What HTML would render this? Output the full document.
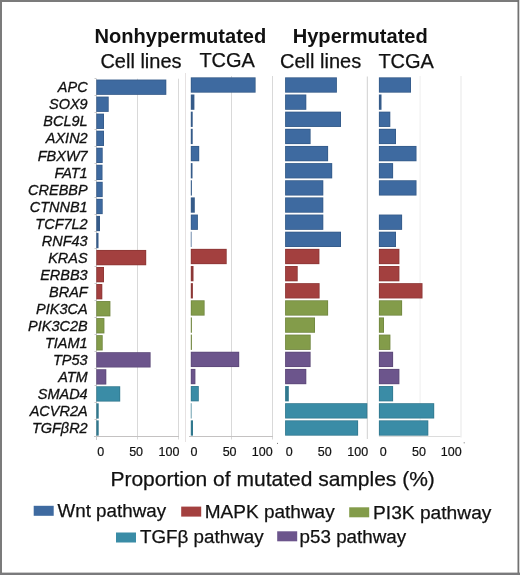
<!DOCTYPE html><html><head><meta charset="utf-8"><style>
html,body{margin:0;padding:0;background:#fff;}
svg{display:block;}
text{font-family:"Liberation Sans",Arial,sans-serif;fill:#111;}
.g{font-style:italic;font-size:14.5px;stroke:#111;stroke-width:0.3px;}
.t{font-size:12.5px;stroke:#111;stroke-width:0.2px;}
.h{font-size:20px;stroke:#111;stroke-width:0.25px;}
.hb{font-size:20.1px;font-weight:bold;}
.ax{font-size:21px;stroke:#111;stroke-width:0.25px;}
.lg{font-size:18.8px;stroke:#111;stroke-width:0.25px;}
</style></head><body>
<svg width="520" height="575" viewBox="0 0 520 575">
<rect x="0" y="0" width="520" height="575" fill="#fff"/>
<rect x="137" y="78.7" width="1" height="360.8" fill="#d9d9d9"/>
<rect x="178" y="78.7" width="1" height="360.8" fill="#d9d9d9"/>
<rect x="185" y="73" width="1" height="369" fill="#e6e2e2"/>
<rect x="94" y="436" width="85" height="1" fill="#c4c2c2"/>
<rect x="94.5" y="78" width="1.7999999999999972" height="1" fill="#c8c8c8"/>
<rect x="94.5" y="95" width="1.7999999999999972" height="1" fill="#c8c8c8"/>
<rect x="94.5" y="112" width="1.7999999999999972" height="1" fill="#c8c8c8"/>
<rect x="94.5" y="129" width="1.7999999999999972" height="1" fill="#c8c8c8"/>
<rect x="94.5" y="146" width="1.7999999999999972" height="1" fill="#c8c8c8"/>
<rect x="94.5" y="163" width="1.7999999999999972" height="1" fill="#c8c8c8"/>
<rect x="94.5" y="180" width="1.7999999999999972" height="1" fill="#c8c8c8"/>
<rect x="94.5" y="197" width="1.7999999999999972" height="1" fill="#c8c8c8"/>
<rect x="94.5" y="214" width="1.7999999999999972" height="1" fill="#c8c8c8"/>
<rect x="94.5" y="231" width="1.7999999999999972" height="1" fill="#c8c8c8"/>
<rect x="94.5" y="248" width="1.7999999999999972" height="1" fill="#c8c8c8"/>
<rect x="94.5" y="266" width="1.7999999999999972" height="1" fill="#c8c8c8"/>
<rect x="94.5" y="283" width="1.7999999999999972" height="1" fill="#c8c8c8"/>
<rect x="94.5" y="300" width="1.7999999999999972" height="1" fill="#c8c8c8"/>
<rect x="94.5" y="317" width="1.7999999999999972" height="1" fill="#c8c8c8"/>
<rect x="94.5" y="334" width="1.7999999999999972" height="1" fill="#c8c8c8"/>
<rect x="94.5" y="351" width="1.7999999999999972" height="1" fill="#c8c8c8"/>
<rect x="94.5" y="368" width="1.7999999999999972" height="1" fill="#c8c8c8"/>
<rect x="94.5" y="385" width="1.7999999999999972" height="1" fill="#c8c8c8"/>
<rect x="94.5" y="402" width="1.7999999999999972" height="1" fill="#c8c8c8"/>
<rect x="94.5" y="419" width="1.7999999999999972" height="1" fill="#c8c8c8"/>
<rect x="94.5" y="436" width="1.7999999999999972" height="1" fill="#c8c8c8"/>
<rect x="96" y="78.7" width="1" height="361.3" fill="#c8c8c8"/>
<rect x="231" y="76" width="1" height="363.5" fill="#d9d9d9"/>
<rect x="272" y="76" width="1" height="363.5" fill="#d9d9d9"/>
<rect x="189" y="436" width="84" height="1" fill="#c4c2c2"/>
<rect x="366.8" y="76.5" width="1" height="362.5" fill="#d0d0d0"/>
<rect x="419.6" y="76" width="1" height="360" fill="#eeeeee"/>
<rect x="460.5" y="76" width="1" height="361.5" fill="#e8e8e8"/>
<rect x="378.9" y="436" width="81.5" height="1" fill="#dcdcdc"/>
<rect x="96.3" y="79.55" width="70.00" height="15.3" fill="#355b89"/>
<rect x="97.10" y="80.35" width="68.40" height="13.70" fill="#3e6aa0"/>
<rect x="96.3" y="96.59" width="12.40" height="15.3" fill="#355b89"/>
<rect x="97.10" y="97.39" width="10.80" height="13.70" fill="#3e6aa0"/>
<rect x="96.3" y="113.63" width="7.70" height="15.3" fill="#355b89"/>
<rect x="97.10" y="114.43" width="6.10" height="13.70" fill="#3e6aa0"/>
<rect x="96.3" y="130.67" width="7.70" height="15.3" fill="#355b89"/>
<rect x="97.10" y="131.47" width="6.10" height="13.70" fill="#3e6aa0"/>
<rect x="96.3" y="147.71" width="6.40" height="15.3" fill="#355b89"/>
<rect x="97.10" y="148.51" width="4.80" height="13.70" fill="#3e6aa0"/>
<rect x="96.3" y="164.75" width="6.20" height="15.3" fill="#355b89"/>
<rect x="97.10" y="165.55" width="4.60" height="13.70" fill="#3e6aa0"/>
<rect x="96.3" y="181.79" width="6.40" height="15.3" fill="#355b89"/>
<rect x="97.10" y="182.59" width="4.80" height="13.70" fill="#3e6aa0"/>
<rect x="96.3" y="198.83" width="6.40" height="15.3" fill="#355b89"/>
<rect x="97.10" y="199.63" width="4.80" height="13.70" fill="#3e6aa0"/>
<rect x="96.3" y="215.87" width="3.70" height="15.3" fill="#355b89"/>
<rect x="96.3" y="232.91" width="2.20" height="15.3" fill="#355b89"/>
<rect x="96.3" y="249.95" width="49.90" height="15.3" fill="#8c3736"/>
<rect x="97.10" y="250.75" width="48.30" height="13.70" fill="#a3403f"/>
<rect x="96.3" y="266.99" width="7.70" height="15.3" fill="#8c3736"/>
<rect x="97.10" y="267.79" width="6.10" height="13.70" fill="#a3403f"/>
<rect x="96.3" y="284.03" width="6.00" height="15.3" fill="#8c3736"/>
<rect x="97.10" y="284.83" width="4.40" height="13.70" fill="#a3403f"/>
<rect x="96.3" y="301.07" width="14.10" height="15.3" fill="#70863f"/>
<rect x="97.10" y="301.87" width="12.50" height="13.70" fill="#839c4a"/>
<rect x="96.3" y="318.11" width="8.10" height="15.3" fill="#70863f"/>
<rect x="97.10" y="318.91" width="6.50" height="13.70" fill="#839c4a"/>
<rect x="96.3" y="335.15" width="6.40" height="15.3" fill="#70863f"/>
<rect x="97.10" y="335.95" width="4.80" height="13.70" fill="#839c4a"/>
<rect x="96.3" y="352.19" width="54.30" height="15.3" fill="#5c4978"/>
<rect x="97.10" y="352.99" width="52.70" height="13.70" fill="#6c558c"/>
<rect x="96.3" y="369.23" width="10.00" height="15.3" fill="#5c4978"/>
<rect x="97.10" y="370.03" width="8.40" height="13.70" fill="#6c558c"/>
<rect x="96.3" y="386.27" width="23.90" height="15.3" fill="#31788e"/>
<rect x="97.10" y="387.07" width="22.30" height="13.70" fill="#3a8ca6"/>
<rect x="96.3" y="403.31" width="2.40" height="15.3" fill="#31788e"/>
<rect x="96.3" y="420.35" width="2.40" height="15.3" fill="#31788e"/>
<rect x="190.8" y="77.35" width="64.80" height="15.3" fill="#355b89"/>
<rect x="191.60" y="78.15" width="63.20" height="13.70" fill="#3e6aa0"/>
<rect x="190.8" y="94.50" width="3.60" height="15.3" fill="#355b89"/>
<rect x="190.8" y="111.65" width="1.90" height="15.3" fill="#355b89"/>
<rect x="190.8" y="128.80" width="1.90" height="15.3" fill="#355b89"/>
<rect x="190.8" y="145.95" width="8.40" height="15.3" fill="#355b89"/>
<rect x="191.60" y="146.75" width="6.80" height="13.70" fill="#3e6aa0"/>
<rect x="190.8" y="163.10" width="1.70" height="15.3" fill="#355b89"/>
<rect x="190.8" y="180.25" width="1.10" height="15.3" fill="#355b89"/>
<rect x="190.8" y="197.40" width="4.00" height="15.3" fill="#355b89"/>
<rect x="190.8" y="214.55" width="7.10" height="15.3" fill="#355b89"/>
<rect x="191.60" y="215.35" width="5.50" height="13.70" fill="#3e6aa0"/>
<rect x="190.8" y="231.70" width="0.70" height="15.3" fill="#355b89"/>
<rect x="190.8" y="248.85" width="35.90" height="15.3" fill="#8c3736"/>
<rect x="191.60" y="249.65" width="34.30" height="13.70" fill="#a3403f"/>
<rect x="190.8" y="266.00" width="2.70" height="15.3" fill="#8c3736"/>
<rect x="190.8" y="283.15" width="2.10" height="15.3" fill="#8c3736"/>
<rect x="190.8" y="300.30" width="13.80" height="15.3" fill="#70863f"/>
<rect x="191.60" y="301.10" width="12.20" height="13.70" fill="#839c4a"/>
<rect x="190.8" y="317.45" width="1.10" height="15.3" fill="#70863f"/>
<rect x="190.8" y="334.60" width="1.10" height="15.3" fill="#70863f"/>
<rect x="190.8" y="351.75" width="48.40" height="15.3" fill="#5c4978"/>
<rect x="191.60" y="352.55" width="46.80" height="13.70" fill="#6c558c"/>
<rect x="190.8" y="368.90" width="4.60" height="15.3" fill="#5c4978"/>
<rect x="191.60" y="369.70" width="3.00" height="13.70" fill="#6c558c"/>
<rect x="190.8" y="386.05" width="8.00" height="15.3" fill="#31788e"/>
<rect x="191.60" y="386.85" width="6.40" height="13.70" fill="#3a8ca6"/>
<rect x="190.8" y="403.20" width="0.70" height="15.3" fill="#31788e"/>
<rect x="190.8" y="420.35" width="2.20" height="15.3" fill="#31788e"/>
<rect x="285.1" y="77.35" width="51.80" height="15.3" fill="#355b89"/>
<rect x="285.90" y="78.15" width="50.20" height="13.70" fill="#3e6aa0"/>
<rect x="285.1" y="94.50" width="21.20" height="15.3" fill="#355b89"/>
<rect x="285.90" y="95.30" width="19.60" height="13.70" fill="#3e6aa0"/>
<rect x="285.1" y="111.65" width="55.90" height="15.3" fill="#355b89"/>
<rect x="285.90" y="112.45" width="54.30" height="13.70" fill="#3e6aa0"/>
<rect x="285.1" y="128.80" width="25.50" height="15.3" fill="#355b89"/>
<rect x="285.90" y="129.60" width="23.90" height="13.70" fill="#3e6aa0"/>
<rect x="285.1" y="145.95" width="43.00" height="15.3" fill="#355b89"/>
<rect x="285.90" y="146.75" width="41.40" height="13.70" fill="#3e6aa0"/>
<rect x="285.1" y="163.10" width="47.10" height="15.3" fill="#355b89"/>
<rect x="285.90" y="163.90" width="45.50" height="13.70" fill="#3e6aa0"/>
<rect x="285.1" y="180.25" width="38.20" height="15.3" fill="#355b89"/>
<rect x="285.90" y="181.05" width="36.60" height="13.70" fill="#3e6aa0"/>
<rect x="285.1" y="197.40" width="38.20" height="15.3" fill="#355b89"/>
<rect x="285.90" y="198.20" width="36.60" height="13.70" fill="#3e6aa0"/>
<rect x="285.1" y="214.55" width="38.20" height="15.3" fill="#355b89"/>
<rect x="285.90" y="215.35" width="36.60" height="13.70" fill="#3e6aa0"/>
<rect x="285.1" y="231.70" width="55.90" height="15.3" fill="#355b89"/>
<rect x="285.90" y="232.50" width="54.30" height="13.70" fill="#3e6aa0"/>
<rect x="285.1" y="248.85" width="34.30" height="15.3" fill="#8c3736"/>
<rect x="285.90" y="249.65" width="32.70" height="13.70" fill="#a3403f"/>
<rect x="285.1" y="266.00" width="12.60" height="15.3" fill="#8c3736"/>
<rect x="285.90" y="266.80" width="11.00" height="13.70" fill="#a3403f"/>
<rect x="285.1" y="283.15" width="34.50" height="15.3" fill="#8c3736"/>
<rect x="285.90" y="283.95" width="32.90" height="13.70" fill="#a3403f"/>
<rect x="285.1" y="300.30" width="43.00" height="15.3" fill="#70863f"/>
<rect x="285.90" y="301.10" width="41.40" height="13.70" fill="#839c4a"/>
<rect x="285.1" y="317.45" width="29.90" height="15.3" fill="#70863f"/>
<rect x="285.90" y="318.25" width="28.30" height="13.70" fill="#839c4a"/>
<rect x="285.1" y="334.60" width="25.60" height="15.3" fill="#70863f"/>
<rect x="285.90" y="335.40" width="24.00" height="13.70" fill="#839c4a"/>
<rect x="285.1" y="351.75" width="25.50" height="15.3" fill="#5c4978"/>
<rect x="285.90" y="352.55" width="23.90" height="13.70" fill="#6c558c"/>
<rect x="285.1" y="368.90" width="21.20" height="15.3" fill="#5c4978"/>
<rect x="285.90" y="369.70" width="19.60" height="13.70" fill="#6c558c"/>
<rect x="285.1" y="386.05" width="3.70" height="15.3" fill="#31788e"/>
<rect x="285.1" y="403.20" width="82.20" height="15.3" fill="#31788e"/>
<rect x="285.90" y="404.00" width="80.60" height="13.70" fill="#3a8ca6"/>
<rect x="285.1" y="420.35" width="73.00" height="15.3" fill="#31788e"/>
<rect x="285.90" y="421.15" width="71.40" height="13.70" fill="#3a8ca6"/>
<rect x="378.9" y="77.35" width="32.10" height="15.3" fill="#355b89"/>
<rect x="379.70" y="78.15" width="30.50" height="13.70" fill="#3e6aa0"/>
<rect x="378.9" y="94.50" width="2.60" height="15.3" fill="#355b89"/>
<rect x="378.9" y="111.65" width="11.40" height="15.3" fill="#355b89"/>
<rect x="379.70" y="112.45" width="9.80" height="13.70" fill="#3e6aa0"/>
<rect x="378.9" y="128.80" width="17.10" height="15.3" fill="#355b89"/>
<rect x="379.70" y="129.60" width="15.50" height="13.70" fill="#3e6aa0"/>
<rect x="378.9" y="145.95" width="37.60" height="15.3" fill="#355b89"/>
<rect x="379.70" y="146.75" width="36.00" height="13.70" fill="#3e6aa0"/>
<rect x="378.9" y="163.10" width="14.20" height="15.3" fill="#355b89"/>
<rect x="379.70" y="163.90" width="12.60" height="13.70" fill="#3e6aa0"/>
<rect x="378.9" y="180.25" width="37.60" height="15.3" fill="#355b89"/>
<rect x="379.70" y="181.05" width="36.00" height="13.70" fill="#3e6aa0"/>
<rect x="378.9" y="214.55" width="23.20" height="15.3" fill="#355b89"/>
<rect x="379.70" y="215.35" width="21.60" height="13.70" fill="#3e6aa0"/>
<rect x="378.9" y="231.70" width="17.10" height="15.3" fill="#355b89"/>
<rect x="379.70" y="232.50" width="15.50" height="13.70" fill="#3e6aa0"/>
<rect x="378.9" y="248.85" width="20.50" height="15.3" fill="#8c3736"/>
<rect x="379.70" y="249.65" width="18.90" height="13.70" fill="#a3403f"/>
<rect x="378.9" y="266.00" width="20.50" height="15.3" fill="#8c3736"/>
<rect x="379.70" y="266.80" width="18.90" height="13.70" fill="#a3403f"/>
<rect x="378.9" y="283.15" width="43.60" height="15.3" fill="#8c3736"/>
<rect x="379.70" y="283.95" width="42.00" height="13.70" fill="#a3403f"/>
<rect x="378.9" y="300.30" width="23.20" height="15.3" fill="#70863f"/>
<rect x="379.70" y="301.10" width="21.60" height="13.70" fill="#839c4a"/>
<rect x="378.9" y="317.45" width="5.10" height="15.3" fill="#70863f"/>
<rect x="379.70" y="318.25" width="3.50" height="13.70" fill="#839c4a"/>
<rect x="378.9" y="334.60" width="11.50" height="15.3" fill="#70863f"/>
<rect x="379.70" y="335.40" width="9.90" height="13.70" fill="#839c4a"/>
<rect x="378.9" y="351.75" width="14.20" height="15.3" fill="#5c4978"/>
<rect x="379.70" y="352.55" width="12.60" height="13.70" fill="#6c558c"/>
<rect x="378.9" y="368.90" width="20.50" height="15.3" fill="#5c4978"/>
<rect x="379.70" y="369.70" width="18.90" height="13.70" fill="#6c558c"/>
<rect x="378.9" y="386.05" width="14.20" height="15.3" fill="#31788e"/>
<rect x="379.70" y="386.85" width="12.60" height="13.70" fill="#3a8ca6"/>
<rect x="378.9" y="403.20" width="55.30" height="15.3" fill="#31788e"/>
<rect x="379.70" y="404.00" width="53.70" height="13.70" fill="#3a8ca6"/>
<rect x="378.9" y="420.35" width="49.40" height="15.3" fill="#31788e"/>
<rect x="379.70" y="421.15" width="47.80" height="13.70" fill="#3a8ca6"/>
<text class="g" x="87.7" y="92.40" text-anchor="end">APC</text>
<text class="g" x="87.7" y="109.43" text-anchor="end">SOX9</text>
<text class="g" x="87.7" y="126.46" text-anchor="end">BCL9L</text>
<text class="g" x="87.7" y="143.49" text-anchor="end">AXIN2</text>
<text class="g" x="87.7" y="160.52" text-anchor="end">FBXW7</text>
<text class="g" x="87.7" y="177.55" text-anchor="end">FAT1</text>
<text class="g" x="87.7" y="194.58" text-anchor="end">CREBBP</text>
<text class="g" x="87.7" y="211.61" text-anchor="end">CTNNB1</text>
<text class="g" x="87.7" y="228.64" text-anchor="end">TCF7L2</text>
<text class="g" x="87.7" y="245.67" text-anchor="end">RNF43</text>
<text class="g" x="87.7" y="262.70" text-anchor="end">KRAS</text>
<text class="g" x="87.7" y="279.73" text-anchor="end">ERBB3</text>
<text class="g" x="87.7" y="296.76" text-anchor="end">BRAF</text>
<text class="g" x="87.7" y="313.79" text-anchor="end">PIK3CA</text>
<text class="g" x="87.7" y="330.82" text-anchor="end">PIK3C2B</text>
<text class="g" x="87.7" y="347.85" text-anchor="end">TIAM1</text>
<text class="g" x="87.7" y="364.88" text-anchor="end">TP53</text>
<text class="g" x="87.7" y="381.91" text-anchor="end">ATM</text>
<text class="g" x="87.7" y="398.94" text-anchor="end">SMAD4</text>
<text class="g" x="87.7" y="415.97" text-anchor="end">ACVR2A</text>
<text class="g" x="87.7" y="433.00" text-anchor="end">TGFβR2</text>
<text class="t" x="100.8" y="455.7" text-anchor="middle">0</text>
<text class="t" x="136.1" y="455.7" text-anchor="middle">50</text>
<text class="t" x="169" y="455.7" text-anchor="middle">100</text>
<text class="t" x="193.9" y="455.7" text-anchor="middle">0</text>
<text class="t" x="229.6" y="455.7" text-anchor="middle">50</text>
<text class="t" x="262.3" y="455.7" text-anchor="middle">100</text>
<text class="t" x="289.2" y="455.7" text-anchor="middle">0</text>
<text class="t" x="324.8" y="455.7" text-anchor="middle">50</text>
<text class="t" x="357.7" y="455.7" text-anchor="middle">100</text>
<text class="t" x="383.2" y="455.7" text-anchor="middle">0</text>
<text class="t" x="419" y="455.7" text-anchor="middle">50</text>
<text class="t" x="451.3" y="455.7" text-anchor="middle">100</text>
<rect x="277.0" y="442.9" width="1" height="1" fill="#777"/>
<rect x="463.7" y="442.3" width="1" height="1" fill="#777"/>
<text class="hb" x="94.4" y="42.5">Nonhypermutated</text>
<text class="hb" x="292.7" y="42.5">Hypermutated</text>
<text class="h" x="100.4" y="67.5">Cell lines</text>
<text class="h" x="199.4" y="67.2">TCGA</text>
<text class="h" x="280" y="67.6">Cell lines</text>
<text class="h" x="378.4" y="67.7">TCGA</text>
<text class="ax" x="110.4" y="485.8">Proportion of mutated samples (%)</text>
<rect x="33.7" y="505.8" width="20" height="10" fill="#3e6aa0"/>
<text class="lg" x="57.5" y="517.3">Wnt pathway</text>
<rect x="181.2" y="506.6" width="20" height="10" fill="#a3403f"/>
<text class="lg" style="font-size:19.0px" x="204.8" y="517.6">MAPK pathway</text>
<rect x="349.2" y="507.3" width="20" height="10" fill="#839c4a"/>
<text class="lg" style="font-size:19.2px" x="373.0" y="519.0">PI3K pathway</text>
<rect x="116" y="532.5" width="20" height="10" fill="#3a8ca6"/>
<text class="lg" x="140" y="543">TGFβ pathway</text>
<rect x="277.2" y="531.3" width="20" height="10" fill="#6c558c"/>
<text class="lg" x="299.6" y="542.6">p53 pathway</text>
<rect x="0" y="0" width="520" height="2" fill="#7b7b7b"/>
<rect x="0" y="0" width="2" height="575" fill="#7b7b7b"/>
<rect x="517.5" y="0" width="1.5" height="575" fill="#727272"/>
<rect x="519" y="0" width="1" height="575" fill="#d8d8d8"/>
<rect x="0" y="572.6" width="520" height="2.4" fill="#7a7a7c"/>
</svg></body></html>
